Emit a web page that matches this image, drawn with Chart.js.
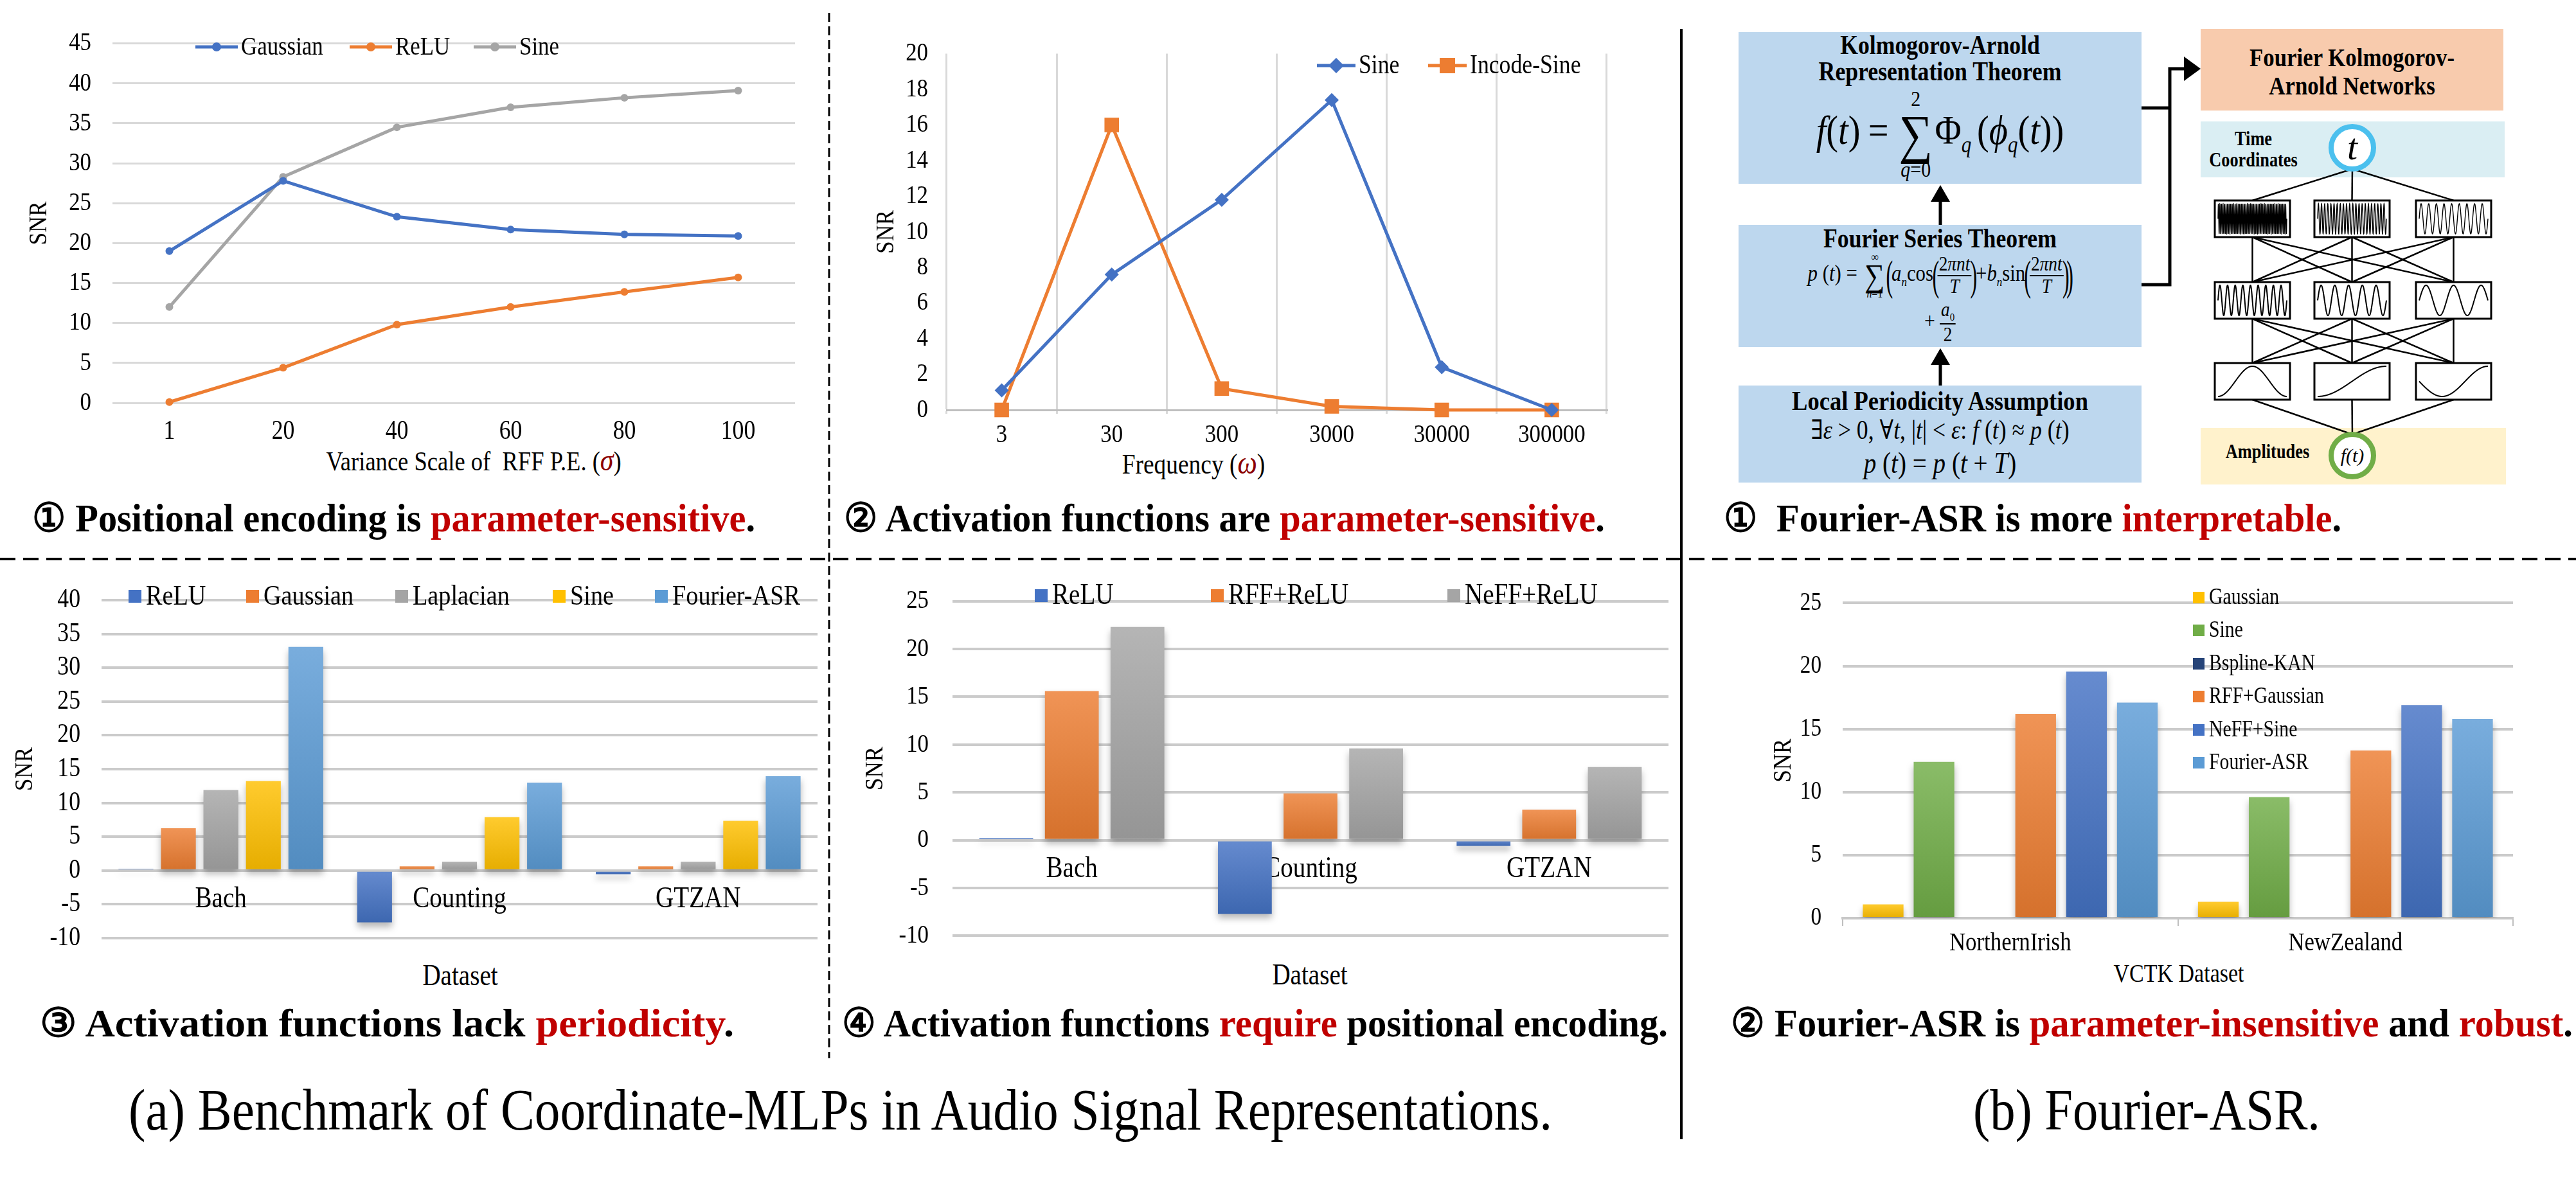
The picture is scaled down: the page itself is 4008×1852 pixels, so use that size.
<!DOCTYPE html>
<html>
<head>
<meta charset="utf-8">
<script src="https://cdn.jsdelivr.net/npm/chart.js@4.4.1/dist/chart.umd.min.js"></script>
<style>
  html, body { margin: 0; padding: 0; background: #fff; }
  #page { position: relative; width: 4008px; height: 1852px; overflow: hidden; background: #fff;
    font-family: "Liberation Serif", "Times New Roman", "DejaVu Serif", serif; color: #000; }
  canvas { position: absolute; }
  #net { position: absolute; left: 0; top: 0; }
  .abs { position: absolute; white-space: nowrap; }
  .cap { font-weight: bold; font-size: 62px; line-height: 72px; }
  .main { font-size: 90px; line-height: 104px; }
  .hl { color: #C00000; }
  .axt { text-align: center; }
  .cond { transform: scaleX(0.85); transform-origin: 50% 50%; }
  .red { color: #8B0000; font-style: italic; font-size: 1.15em; }
  .dt { font-weight: bold; text-align: center; }
  .math { display: flex; justify-content: center; align-items: center; transform: scaleX(0.88); transform-origin: 50% 50%; }
  .sum { display: inline-flex; flex-direction: column; align-items: center; vertical-align: middle; line-height: 1; margin: 0 4px; }
  .sum .sig { font-size: 84px; line-height: 74px; }
  .sum .lim { font-size: 34px; line-height: 36px; }
  .s2 .sig { font-size: 50px; line-height: 40px; }
  .s2 .lim { font-size: 18px; line-height: 17px; }
  .frac { display: inline-flex; flex-direction: column; align-items: center; vertical-align: middle; line-height: 1.05; font-size: 31px; }
  .frac > span:first-child { border-bottom: 2px solid #000; padding: 0 2px; }
  .bp { display: inline-block; font-size: 66px; vertical-align: middle; line-height: 1; transform: scaleX(0.55); margin: 0 -7px; }
  sub { font-size: 0.55em; }
</style>
</head>
<body>
<div id="page">
  <svg id="net" width="4008" height="1852" viewBox="0 0 4008 1852"></svg>

  <!-- axis titles that mix colours -->
  <div class="abs axt cond" style="left:470px;width:500px;top:690px;font-size:43px;line-height:52px;">Variance Scale of&nbsp; RFF P.E. (<span class="red">&sigma;</span>)</div>
  <div class="abs axt cond" style="left:1657px;width:400px;top:694px;font-size:44px;line-height:52px;">Frequency (<span class="red">&omega;</span>)</div>
  <div class="abs axt cond" style="left:516px;width:400px;top:1491px;font-size:46px;line-height:54px;">Dataset</div>
  <div class="abs axt cond" style="left:1838px;width:400px;top:1490px;font-size:46px;line-height:54px;">Dataset</div>
  <div class="abs axt cond" style="left:3190px;width:400px;top:1491px;font-size:40px;line-height:48px;">VCTK Dataset</div>

  <!-- diagram text -->
  <div class="abs dt cond" style="left:2705px;width:627px;top:50px;font-size:42px;line-height:41px;">Kolmogorov-Arnold<br>Representation Theorem</div>
  <div class="abs math" style="left:2705px;width:627px;top:137px;height:144px;font-size:64px;">
    <span><i>f</i>(<i>t</i>)<span style="margin:0 14px">=</span><span class="sum"><span class="lim">2</span><span class="sig">&sum;</span><span class="lim"><i>q</i>=0</span></span>&Phi;<sub><i>q</i></sub><span style="margin-left:10px">(</span><i>&#981;</i><sub><i>q</i></sub>(<i>t</i>))</span>
  </div>

  <div class="abs dt cond" style="left:2705px;width:627px;top:349px;font-size:42px;line-height:44px;">Fourier Series Theorem</div>
  <div class="abs math" style="left:2705px;width:627px;top:394px;height:70px;font-size:35px;">
    <span><i>p</i> (<i>t</i>) = <span class="sum s2"><span class="lim">&infin;</span><span class="sig">&sum;</span><span class="lim"><i>n</i>=1</span></span><span class="bp">(</span><i>a</i><sub><i>n</i></sub>cos<span class="bp">(</span><span class="frac"><span>2<i>&pi;nt</i></span><span><i>T</i></span></span><span class="bp">)</span>+<i>b</i><sub><i>n</i></sub>sin<span class="bp">(</span><span class="frac"><span>2<i>&pi;nt</i></span><span><i>T</i></span></span><span class="bp">)</span><span class="bp">)</span></span>
  </div>
  <div class="abs math" style="left:2705px;width:627px;top:470px;height:64px;font-size:34px;">
    <span>+ <span class="frac"><span><i>a</i><sub>0</sub></span><span>2</span></span></span>
  </div>

  <div class="abs dt cond" style="left:2705px;width:627px;top:601px;font-size:43px;line-height:46px;">Local Periodicity Assumption</div>
  <div class="abs axt cond" style="left:2705px;width:627px;top:645px;font-size:42px;line-height:48px;">&exist;<i>&epsilon;</i> &gt; 0, &forall;<i>t</i>, |<i>t</i>| &lt; <i>&epsilon;</i>: <i>f</i> (<i>t</i>) &asymp; <i>p</i> (<i>t</i>)</div>
  <div class="abs axt cond" style="left:2705px;width:627px;top:695px;font-size:46px;line-height:52px;"><i>p</i> (<i>t</i>) = <i>p</i> (<i>t</i> + <i>T</i>)</div>

  <div class="abs dt cond" style="left:3424px;width:471px;top:67px;font-size:41px;line-height:44px;">Fourier Kolmogorov-<br>Arnold Networks</div>
  <div class="abs dt cond" style="left:3420px;width:172px;top:199px;font-size:31px;line-height:33px;">Time<br>Coordinates</div>
  <div class="abs dt cond" style="left:3430px;width:196px;top:686px;font-size:31px;line-height:34px;">Amplitudes</div>

  <!-- panel captions -->
  <div class="abs cap" data-fit="50,1175,806">&#9312; Positional encoding is <span class="hl">parameter-sensitive</span>.</div>
  <div class="abs cap" data-fit="1313,2497,806">&#9313; Activation functions are <span class="hl">parameter-sensitive</span>.</div>
  <div class="abs cap" data-fit="2682,3643,806">&#9312;&nbsp; Fourier-ASR is more <span class="hl">interpretable</span>.</div>
  <div class="abs cap" data-fit="62,1142,1592">&#9314; Activation functions lack <span class="hl">periodicity</span>.</div>
  <div class="abs cap" data-fit="1310,2595,1592">&#9315; Activation functions <span class="hl">require</span> positional encoding.</div>
  <div class="abs cap" data-fit="2693,4003,1592">&#9313; Fourier-ASR is <span class="hl">parameter-insensitive</span> and <span class="hl">robust</span>.</div>
  <div class="abs main" data-fit="200,2415,1728">(a) Benchmark of Coordinate-MLPs in Audio Signal Representations.</div>
  <div class="abs main" data-fit="3070,3610,1728">(b) Fourier-ASR.</div>
</div>

<script>
  // ---- data ----
  const sigmaScales = ['1', '20', '40', '60', '80', '100'];
  const sigmaGaussian = [19.0, 27.8, 23.3, 21.7, 21.1, 20.9];
  const sigmaReLU = [0.1, 4.4, 9.8, 12.0, 13.9, 15.7];
  const sigmaSine = [12.0, 28.3, 34.5, 37.0, 38.2, 39.1];

  const frequencies = ['3', '30', '300', '3000', '30000', '300000'];
  const freqSine = [1.1, 7.6, 11.8, 17.4, 2.4, 0];
  const freqIncodeSine = [0, 16.0, 1.2, 0.2, 0, 0];

  const audioSets = ['Bach', 'Counting', 'GTZAN'];
  const actReLU = [0.25, -7.7, -0.55];
  const actGaussian = [6.25, 0.6, 0.6];
  const actLaplacian = [11.9, 1.3, 1.3];
  const actSine = [13.25, 7.9, 7.35];
  const actFourierASR = [33.1, 13.0, 13.95];

  const peReLU = [0.25, -7.7, -0.6];
  const peRFFReLU = [15.6, 4.9, 3.2];
  const peNeFFReLU = [22.3, 9.6, 7.65];

  const vctkAccents = ['NorthernIrish', 'NewZealand'];
  const vctkGaussian = [1.1, 1.3];
  const vctkSine = [12.4, 9.6];
  const vctkBsplineKAN = [null, null];
  const vctkRFFGaussian = [16.2, 13.3];
  const vctkNeFFSine = [19.55, 16.9];
  const vctkFourierASR = [17.1, 15.8];

  const BLUE = '#4472C4', ORANGE = '#ED7D31', GRAY = '#A5A5A5', YELLOW = '#FFC000';
  const LIGHTBLUE = '#5B9BD5', GREEN = '#70AD47', NAVY = '#264478';
  const FONT = '"Liberation Serif", "Times New Roman", serif';

  Chart.defaults.font.family = FONT;
  Chart.defaults.color = '#000';

  // the figure's text is a narrow Times; squeeze canvas text the same way
  const NARROW = 0.85;
  const rawFillText = CanvasRenderingContext2D.prototype.fillText;
  CanvasRenderingContext2D.prototype.fillText = function (t, x, y) {
    this.save();
    this.translate(x, y);
    this.scale(NARROW, 1);
    rawFillText.call(this, t, 0, 0);
    this.restore();
  };

  const page = document.getElementById('page');

  function shade(hex, amt) {
    const n = parseInt(hex.slice(1), 16);
    const t = amt < 0 ? 0 : 255, p = Math.abs(amt);
    const c = [n >> 16, (n >> 8) & 255, n & 255].map(function (v) { return Math.round((t - v) * p + v); });
    return 'rgb(' + c.join(',') + ')';
  }

  // lighter at the top of each bar, darker at its bottom
  function barFill(hex) {
    return function (c) {
      const chart = c.chart;
      if (!chart.chartArea || c.raw == null) return hex;
      const y = chart.scales.y;
      const a = y.getPixelForValue(c.raw), b = y.getPixelForValue(0);
      const top = Math.min(a, b), bot = Math.max(a, b);
      if (bot - top < 2) return hex;
      const g = chart.ctx.createLinearGradient(0, top, 0, bot);
      g.addColorStop(0, shade(hex, 0.18));
      g.addColorStop(1, shade(hex, -0.1));
      return g;
    };
  }

  function drawMark(ctx, style, r, x, y) {
    ctx.beginPath();
    if (style === 'rect') {
      const s = r * Math.SQRT1_2;
      ctx.rect(x - s, y - s, 2 * s, 2 * s);
    } else if (style === 'rectRot') {
      ctx.moveTo(x, y - r); ctx.lineTo(x + r, y); ctx.lineTo(x, y + r); ctx.lineTo(x - r, y); ctx.closePath();
    } else {
      ctx.arc(x, y, r, 0, Math.PI * 2);
    }
    ctx.fill();
  }

  // legend drawn where the original has it (page coordinates)
  const fixedLegend = {
    id: 'fixedLegend',
    afterDraw: function (chart, args, o) {
      if (!o.pos) return;
      const ctx = chart.ctx;
      const ox = o.origin[0], oy = o.origin[1];
      ctx.save();
      ctx.font = o.size + 'px ' + FONT;
      ctx.textBaseline = 'middle';
      chart.data.datasets.forEach(function (ds, i) {
        const x = o.pos[i][0] - ox, y = o.pos[i][1] - oy;
        const col = typeof ds.borderColor === 'string' ? ds.borderColor : ds.legendColor;
        let tx;
        if (o.kind === 'line') {
          ctx.strokeStyle = col; ctx.lineWidth = ds.borderWidth;
          ctx.beginPath(); ctx.moveTo(x, y); ctx.lineTo(x + o.lineLen, y); ctx.stroke();
          ctx.fillStyle = col;
          drawMark(ctx, ds.pointStyle, ds.pointRadius + 1, x + o.lineLen / 2, y);
          tx = x + o.lineLen + 5;
        } else {
          ctx.fillStyle = ds.legendColor;
          ctx.fillRect(x, y - o.box / 2, o.box, o.box);
          tx = x + o.box + 7;
        }
        ctx.fillStyle = '#000';
        ctx.fillText(ds.label, tx, y + 1);
      });
      ctx.restore();
    }
  };

  const barShadow = {
    id: 'barShadow',
    beforeDatasetsDraw: function (chart) {
      const c = chart.ctx;
      c.save();
      c.shadowColor = 'rgba(0,0,0,0.28)';
      c.shadowBlur = 10;
      c.shadowOffsetY = 7;
    },
    afterDatasetsDraw: function (chart) { chart.ctx.restore(); }
  };

  function mount(box, config) {
    const cv = document.createElement('canvas');
    cv.width = box.r - box.l;
    cv.height = box.b - box.t;
    cv.style.left = box.l + 'px';
    cv.style.top = box.t + 'px';
    cv.style.width = cv.width + 'px';
    cv.style.height = cv.height + 'px';
    page.appendChild(cv);
    config.options.responsive = false;
    config.options.devicePixelRatio = 1;
    config.options.animation = false;
    config.options.events = [];
    config.options.plugins.legend = { display: false };
    config.options.plugins.tooltip = { enabled: false };
    config.options.plugins.fixedLegend.origin = [box.l, box.t];
    config.plugins = (config.plugins || []).concat([fixedLegend]);
    return new Chart(cv, config);
  }

  function yAxis(box, area, min, max, step, size, pad, gridCol, gridW) {
    return {
      min: min, max: max,
      ticks: { stepSize: step, font: { size: size }, padding: pad, color: '#000' },
      grid: { color: gridCol, lineWidth: gridW, drawTicks: false },
      border: { display: false },
      title: { display: true, text: 'SNR', font: { size: 41 }, padding: { top: 4, bottom: 0 }, color: '#000' },
      afterFit: function (s) { s.width = area.l - box.l; }
    };
  }

  function lineSet(label, data, color, style, r) {
    return { label: label, data: data, borderColor: color, backgroundColor: color, borderWidth: 5,
      pointStyle: style, pointRadius: r, pointBorderWidth: 0, pointBackgroundColor: color,
      tension: 0, clip: false };
  }

  function barSet(label, data, color) {
    return { label: label, data: data, backgroundColor: barFill(color), legendColor: color, borderWidth: 0 };
  }

  // ---- 1: positional encoding vs sigma ----
  (function () {
    const box = { l: 33, t: 10, r: 1262, b: 700 };
    const area = { l: 175, t: 42, r: 1237, b: 627 };
    mount(box, {
      type: 'line',
      data: { labels: sigmaScales, datasets: [
        lineSet('Gaussian', sigmaGaussian, BLUE, 'circle', 6),
        lineSet('ReLU', sigmaReLU, ORANGE, 'circle', 6),
        lineSet('Sine', sigmaSine, GRAY, 'circle', 6)
      ] },
      options: {
        layout: { padding: { left: 0, top: area.t - box.t, right: box.r - area.r, bottom: 0 } },
        scales: {
          x: { offset: true, grid: { display: false, drawTicks: false }, border: { display: false },
            ticks: { font: { size: 42 }, padding: 20, color: '#000', maxRotation: 0 },
            afterFit: function (s) { s.height = box.b - area.b; } },
          y: yAxis(box, area, 0, 45, 5, 41, 33, '#D9D9D9', 3)
        },
        plugins: { fixedLegend: { kind: 'line', size: 41, lineLen: 66, pos: [[304, 73], [544, 73], [737, 73]] } }
      }
    });
  })();

  // ---- 2: activation frequency ----
  (function () {
    const box = { l: 1351, t: 30, r: 2530, b: 705 };
    const area = { l: 1473, t: 74, r: 2500, b: 638 };
    mount(box, {
      type: 'line',
      data: { labels: frequencies, datasets: [
        lineSet('Sine', freqSine, BLUE, 'rectRot', 11),
        lineSet('Incode-Sine', freqIncodeSine, ORANGE, 'rect', 16)
      ] },
      options: {
        layout: { padding: { left: 0, top: area.t - box.t, right: box.r - area.r, bottom: 0 } },
        scales: {
          x: { offset: true, grid: { display: true, offset: true, color: '#D9D9D9', lineWidth: 3, drawTicks: true, tickLength: 6 },
            border: { display: true, color: '#BFBFBF', width: 3 },
            ticks: { font: { size: 41 }, padding: 9, color: '#000', maxRotation: 0, minRotation: 0, autoSkip: false },
            afterFit: function (s) { s.height = box.b - area.b; } },
          y: Object.assign(yAxis(box, area, 0, 20, 2, 41, 29, '#D9D9D9', 3), { grid: { display: false, drawTicks: false } })
        },
        plugins: { fixedLegend: { kind: 'line', size: 42, lineLen: 60, pos: [[2049, 102], [2222, 102]] } }
      }
    });
  })();

  // ---- 3: periodicity bars ----
  (function () {
    const box = { l: 11, t: 876, r: 1282, b: 1518 };
    const area = { l: 158, t: 904, r: 1272, b: 1489 };
    mount(box, {
      type: 'bar',
      data: { labels: audioSets, datasets: [
        barSet('ReLU', actReLU, BLUE),
        barSet('Gaussian', actGaussian, ORANGE),
        barSet('Laplacian', actLaplacian, GRAY),
        barSet('Sine', actSine, YELLOW),
        barSet('Fourier-ASR', actFourierASR, LIGHTBLUE)
      ] },
      options: {
        categoryPercentage: 0.89, barPercentage: 0.82,
        layout: { padding: { left: 0, top: area.t - box.t, right: box.r - area.r, bottom: box.b - area.b } },
        scales: {
          x: { position: { y: 0 }, grid: { display: false, drawTicks: false }, border: { display: false },
            ticks: { font: { size: 46 }, padding: 18, color: '#000', maxRotation: 0 } },
          y: yAxis(box, area, -10, 40, 5, 42, 33, '#CBCBCB', 4)
        },
        plugins: { fixedLegend: { kind: 'box', size: 45, box: 20, pos: [[200, 928], [383, 928], [615, 928], [860, 928], [1019, 928]] } }
      },
      plugins: [barShadow]
    });
  })();

  // ---- 4: positional encoding bars ----
  (function () {
    const box = { l: 1334, t: 874, r: 2606, b: 1518 };
    const area = { l: 1482, t: 902, r: 2596, b: 1489 };
    mount(box, {
      type: 'bar',
      data: { labels: audioSets, datasets: [
        barSet('ReLU', peReLU, BLUE),
        barSet('RFF+ReLU', peRFFReLU, ORANGE),
        barSet('NeFF+ReLU', peNeFFReLU, GRAY)
      ] },
      options: {
        categoryPercentage: 0.825, barPercentage: 0.82,
        layout: { padding: { left: 0, top: area.t - box.t, right: box.r - area.r, bottom: box.b - area.b } },
        scales: {
          x: { position: { y: 0 }, z: 1, grid: { display: false, drawTicks: false }, border: { display: false },
            ticks: { font: { size: 46 }, padding: 18, color: '#000', maxRotation: 0 } },
          y: yAxis(box, area, -10, 25, 5, 41, 37, '#CBCBCB', 4)
        },
        plugins: { fixedLegend: { kind: 'box', size: 46, box: 20, pos: [[1610, 927], [1884, 927], [2252, 927]] } }
      },
      plugins: [barShadow]
    });
  })();

  // ---- 5: VCTK robustness bars ----
  (function () {
    const box = { l: 2747, t: 882, r: 3930, b: 1492 };
    const area = { l: 2867, t: 910, r: 3910, b: 1429 };
    mount(box, {
      type: 'bar',
      data: { labels: vctkAccents, datasets: [
        barSet('Gaussian', vctkGaussian, YELLOW),
        barSet('Sine', vctkSine, GREEN),
        barSet('Bspline-KAN', vctkBsplineKAN, NAVY),
        barSet('RFF+Gaussian', vctkRFFGaussian, ORANGE),
        barSet('NeFF+Sine', vctkNeFFSine, BLUE),
        barSet('Fourier-ASR', vctkFourierASR, LIGHTBLUE)
      ] },
      options: {
        categoryPercentage: 0.91, barPercentage: 0.8,
        layout: { padding: { left: 0, top: area.t - box.t, right: box.r - area.r, bottom: 0 } },
        scales: {
          x: { grid: { display: true, offset: true, drawOnChartArea: false, drawTicks: true, tickLength: 12, color: '#BFBFBF', lineWidth: 2 },
            border: { display: true, color: '#C8C8C8', width: 4 },
            ticks: { font: { size: 41 }, padding: 3, color: '#000', maxRotation: 0 },
            afterFit: function (s) { s.height = box.b - area.b; } },
          y: yAxis(box, area, 0, 25, 5, 39, 33, '#CBCBCB', 4)
        },
        plugins: { fixedLegend: { kind: 'box', size: 35, box: 18,
          pos: [[3412, 930], [3412, 981], [3412, 1033], [3412, 1084], [3412, 1136], [3412, 1187]] } }
      },
      plugins: [barShadow]
    });
  })();

  // ---- separators and the Fourier-ASR diagram ----
  const NS = 'http://www.w3.org/2000/svg';
  const svg = document.getElementById('net');
  function el(tag, attrs) {
    const e = document.createElementNS(NS, tag);
    Object.keys(attrs).forEach(function (k) { e.setAttribute(k, attrs[k]); });
    svg.appendChild(e);
    return e;
  }
  function ln(x1, y1, x2, y2, w, extra) {
    return el('line', Object.assign({ x1: x1, y1: y1, x2: x2, y2: y2, stroke: '#000', 'stroke-width': w }, extra || {}));
  }

  ln(0, 870, 4008, 870, 4, { 'stroke-dasharray': '24 12' });
  ln(1290, 20, 1290, 1647, 3, { 'stroke-dasharray': '14 7' });
  ln(2616, 45, 2616, 1773, 4);

  el('rect', { x: 2705, y: 50, width: 627, height: 236, fill: '#BDD7EE' });
  el('rect', { x: 2705, y: 350, width: 627, height: 190, fill: '#BDD7EE' });
  el('rect', { x: 2705, y: 600, width: 627, height: 151, fill: '#BDD7EE' });
  el('rect', { x: 3424, y: 45, width: 471, height: 127, fill: '#F8CBAD' });
  el('rect', { x: 3424, y: 189, width: 473, height: 87, fill: '#DAEEF3' });
  el('rect', { x: 3424, y: 666, width: 475, height: 88, fill: '#FFF2CC' });

  el('polyline', { points: '3332,168 3376,168', stroke: '#000', 'stroke-width': 5, fill: 'none' });
  el('polyline', { points: '3332,443 3376,443 3376,107 3402,107', stroke: '#000', 'stroke-width': 5, fill: 'none' });
  el('polygon', { points: '3398,88 3424,107 3398,126', fill: '#000' });
  ln(3019, 350, 3019, 310, 5);
  el('polygon', { points: '3004,314 3019,288 3034,314', fill: '#000' });
  ln(3019, 600, 3019, 564, 5);
  el('polygon', { points: '3004,568 3019,542 3034,568', fill: '#000' });

  const colX = [3446, 3601, 3759], rowY = [312, 439, 565], cellW = 117, cellH = 57;
  const mid = colX.map(function (x) { return x + cellW / 2; });
  mid.forEach(function (x) { ln(3660, 263, x, rowY[0], 2.5); });
  [0, 1].forEach(function (r) {
    mid.forEach(function (a) { mid.forEach(function (b) { ln(a, rowY[r] + cellH, b, rowY[r + 1], 2.5); }); });
  });
  mid.forEach(function (x) { ln(x, rowY[2] + cellH, 3660, 676, 2.5); });

  // wave glyphs inside the network cells (illustration, not chart data)
  const cellCycles = [[45, 22, 9], [9, 5, 2.5]];
  const lastRow = [
    function (u) { return -Math.cos(2 * Math.PI * u); },
    function (u) { return -Math.cos(Math.PI * u); },
    function (u) { return -Math.sin(1.5 * Math.PI * u); }
  ];
  for (let r = 0; r < 3; r++) {
    for (let c = 0; c < 3; c++) {
      const x0 = colX[c], y0 = rowY[r];
      el('rect', { x: x0, y: y0, width: cellW, height: cellH, fill: '#fff', stroke: '#000', 'stroke-width': 3 });
      const f = r < 2 ? (function (k) { return function (u) { return Math.sin(2 * Math.PI * k * u); }; })(cellCycles[r][c]) : lastRow[c];
      const n = 700, pts = [];
      for (let i = 0; i <= n; i++) {
        const u = i / n;
        pts.push((x0 + 5 + u * (cellW - 10)).toFixed(2) + ',' + (y0 + cellH / 2 - f(u) * (cellH / 2 - 5)).toFixed(2));
      }
      el('polyline', { points: pts.join(' '), fill: 'none', stroke: '#000', 'stroke-width': r === 0 ? 1.4 : 2 });
    }
  }

  el('circle', { cx: 3660, cy: 230, r: 33, fill: '#fff', stroke: '#4BC0EE', 'stroke-width': 8 });
  const tt = el('text', { x: 3660, y: 248, 'text-anchor': 'middle', 'font-size': 58, 'font-style': 'italic', 'font-family': FONT });
  tt.textContent = 't';
  el('circle', { cx: 3660, cy: 709, r: 33, fill: '#fff', stroke: '#70AD47', 'stroke-width': 8 });
  const ft = el('text', { x: 3660, y: 719, 'text-anchor': 'middle', 'font-size': 30, 'font-style': 'italic', 'font-family': FONT });
  ft.textContent = 'f(t)';

  // captions: keep font, fit to the original extent
  document.querySelectorAll('[data-fit]').forEach(function (e) {
    const v = e.getAttribute('data-fit').split(',').map(Number);
    const w = e.getBoundingClientRect().width;
    e.style.left = v[0] + 'px';
    e.style.top = (v[2] - e.offsetHeight / 2) + 'px';
    e.style.transformOrigin = '0 50%';
    e.style.transform = 'scaleX(' + ((v[1] - v[0]) / w).toFixed(4) + ')';
  });
</script>
</body>
</html>
